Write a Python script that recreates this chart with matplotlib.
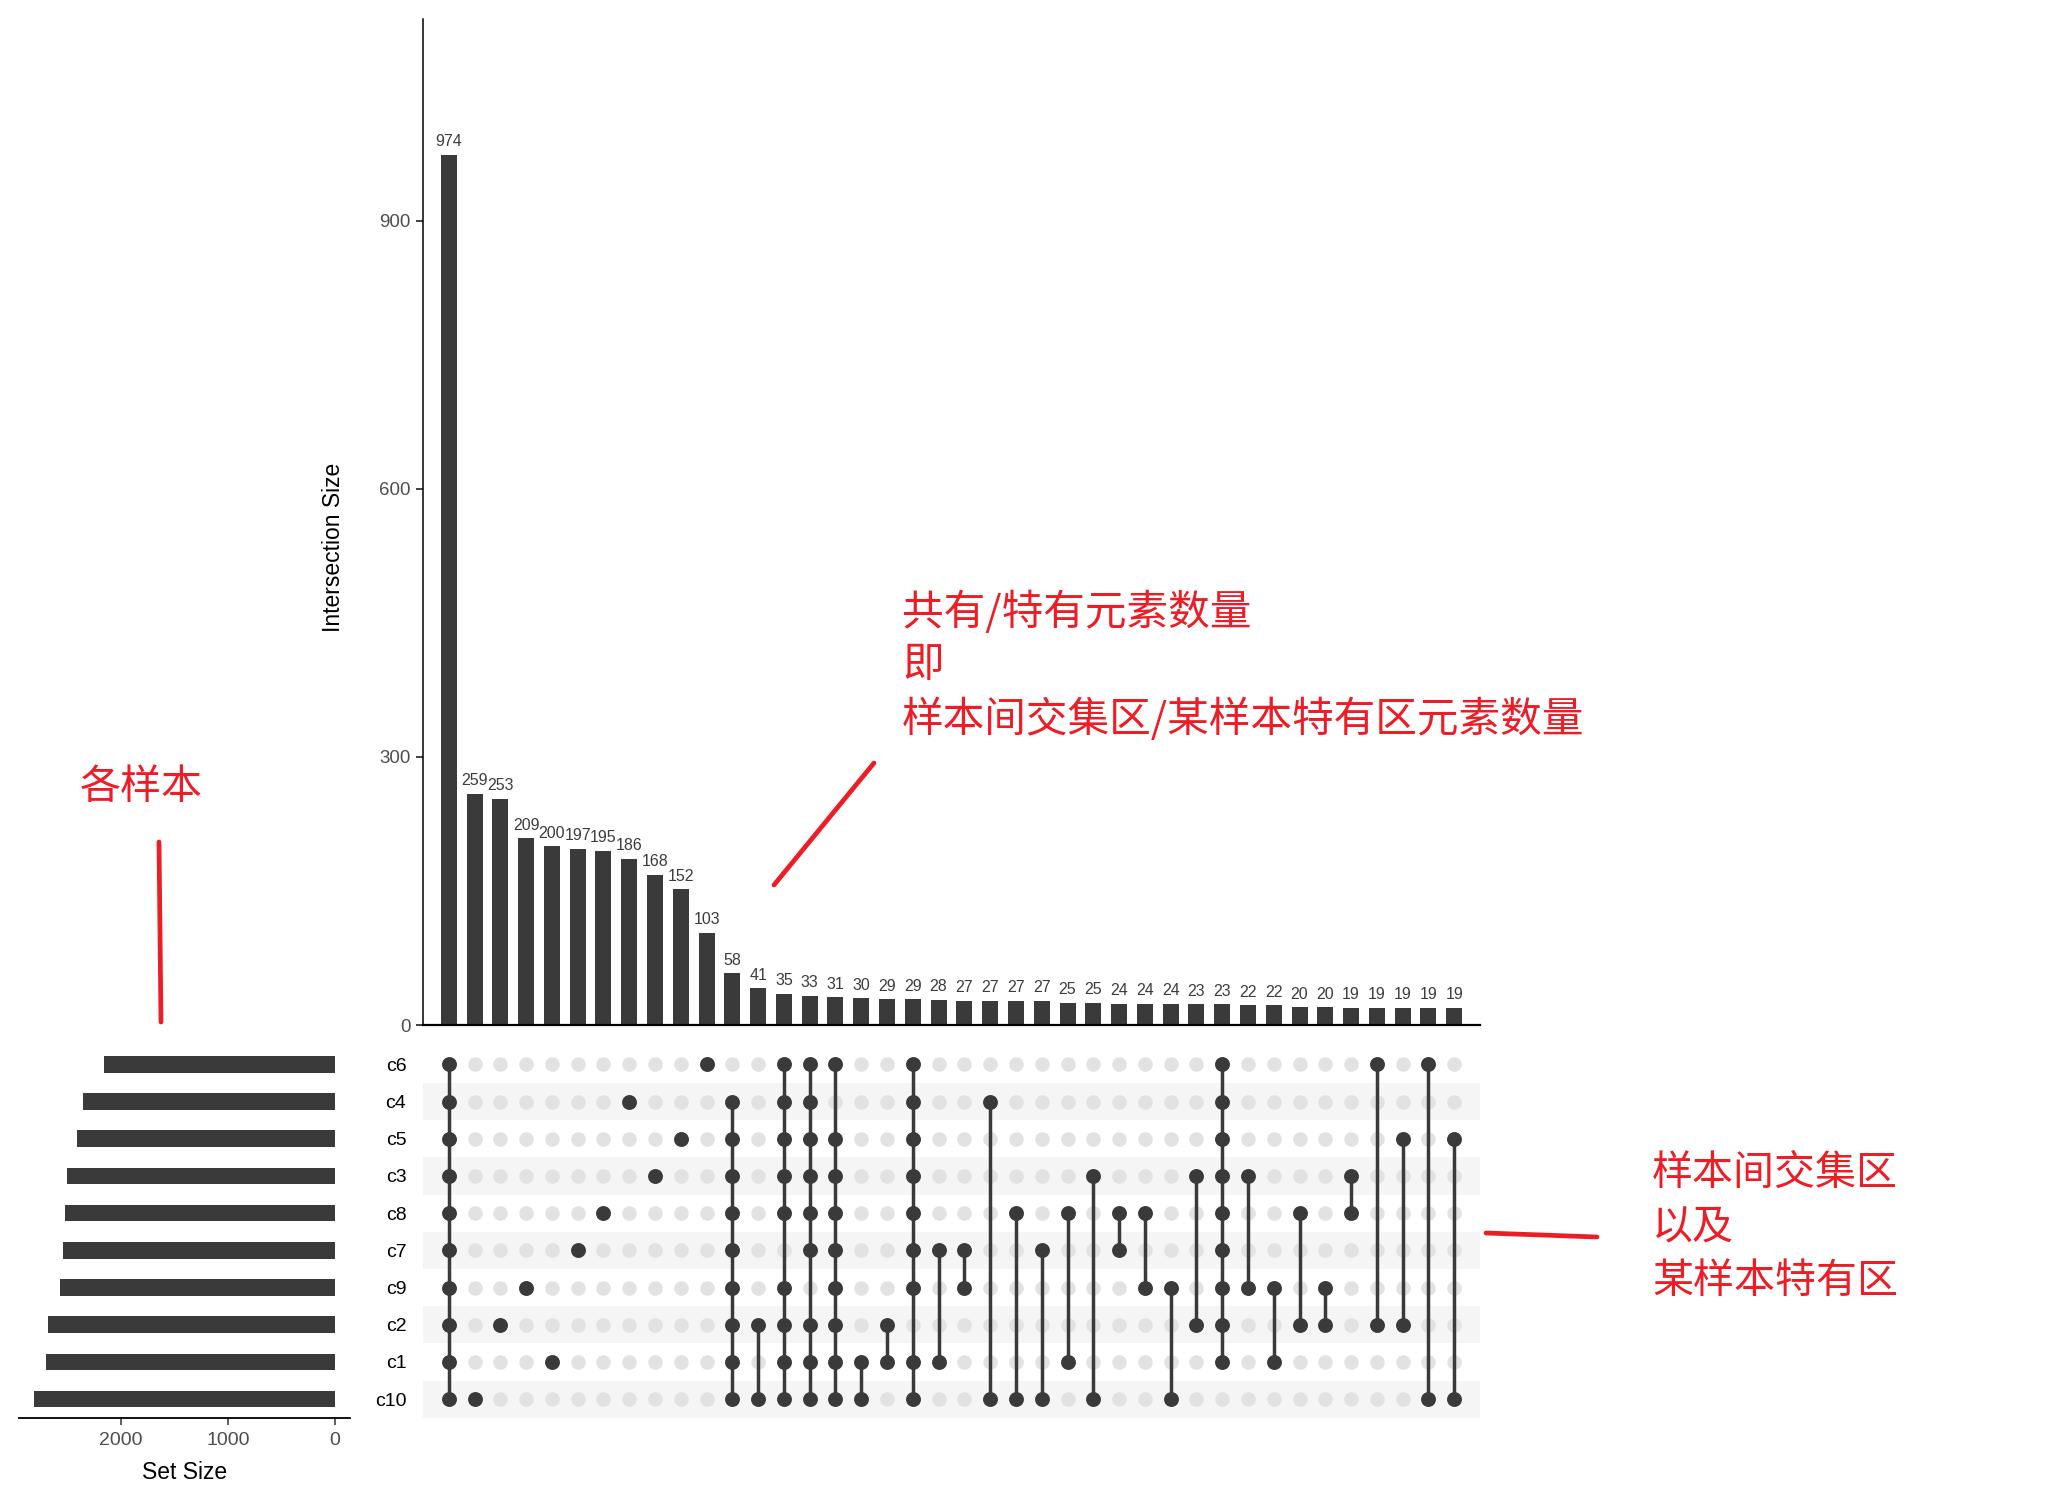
import matplotlib
matplotlib.use("Agg")
import matplotlib.pyplot as plt
from matplotlib.lines import Line2D

plt.rcParams['font.family'] = ['Liberation Sans', 'Noto Sans CJK SC', 'DejaVu Sans']

# sets, top to bottom as in the matrix
sets = ["c6", "c4", "c5", "c3", "c8", "c7", "c9", "c2", "c1", "c10"]
set_sizes = [2158, 2354, 2410, 2503, 2522, 2540, 2568, 2680, 2699, 2811]

# intersections, left to right
inter_sizes = [974, 259, 253, 209, 200, 197, 195, 186, 168, 152, 103, 58, 41, 35, 33,
               31, 30, 29, 29, 28, 27, 27, 27, 27, 25, 25, 24, 24, 24, 23, 23, 22, 22,
               20, 20, 19, 19, 19, 19, 19]
ALL = sets
inter_members = [
    ALL, ["c10"], ["c2"], ["c9"], ["c1"], ["c7"], ["c8"], ["c4"], ["c3"], ["c5"], ["c6"],
    [s for s in ALL if s != "c6"],
    ["c2", "c10"],
    [s for s in ALL if s != "c7"],
    [s for s in ALL if s != "c9"],
    [s for s in ALL if s != "c4"],
    ["c1", "c10"], ["c2", "c1"],
    [s for s in ALL if s != "c2"],
    ["c7", "c1"], ["c7", "c9"], ["c4", "c10"], ["c8", "c10"], ["c7", "c10"],
    ["c8", "c1"], ["c3", "c10"], ["c8", "c7"], ["c8", "c9"], ["c9", "c10"],
    ["c3", "c2"],
    [s for s in ALL if s != "c10"],
    ["c3", "c9"], ["c9", "c1"], ["c8", "c2"], ["c9", "c2"], ["c3", "c8"],
    ["c6", "c2"], ["c5", "c2"], ["c6", "c10"], ["c5", "c10"],
]

DARK = "#3a3a3a"
GREY_DOT = "#e2e2e2"
STRIPE = "#f5f5f5"
RED = "#ee1c25"

W, H = 2048, 1500
fig = plt.figure(figsize=(W / 100, H / 100), dpi=100)


def box(x0, y0, x1, y1):
    # pixel box (top-left origin) -> figure fraction rect
    return [x0 / W, 1 - y1 / H, (x1 - x0) / W, (y1 - y0) / H]


n_int = len(inter_sizes)
n_set = len(sets)
xs = list(range(1, n_int + 1))
row_y = {s: n_set - 1 - i for i, s in enumerate(sets)}

# intersection size bars
ax_bar = fig.add_axes(box(423, 19, 1480, 1025))
ax_bar.bar(xs, inter_sizes, width=0.62, color=DARK)
for x, v in zip(xs, inter_sizes):
    ax_bar.annotate(str(v), (x, v), xytext=(0, 4), textcoords="offset points",
                    ha="center", va="bottom", fontsize=11.5, color="#3c3c3c")
ax_bar.set_xlim(0, n_int + 1)
ax_bar.set_ylim(0, 1126)
ax_bar.set_yticks([0, 300, 600, 900])
ax_bar.set_xticks([])
ax_bar.spines["top"].set_visible(False)
ax_bar.spines["right"].set_visible(False)
ax_bar.spines["left"].set_linewidth(1.1)
ax_bar.spines["bottom"].set_linewidth(1.6)
ax_bar.tick_params(axis="y", labelsize=13.5, labelcolor="#4d4d4d", color="#333333",
                   length=5, width=1.3, pad=4)
ax_bar.set_ylabel("Intersection Size", fontsize=16.5, color="black")
ax_bar.yaxis.set_label_coords(-0.074, 0.475)

# matrix
ax_m = fig.add_axes(box(423, 1045.7, 1480, 1417.7))
for s in sets:
    if sets.index(s) % 2 == 1:
        ax_m.axhspan(row_y[s] - 0.5, row_y[s] + 0.5, color=STRIPE, zorder=0, lw=0)
for x, members in zip(xs, inter_members):
    ax_m.scatter([x] * n_set, [row_y[s] for s in sets], s=110, color=GREY_DOT, zorder=1, lw=0)
    ys = [row_y[s] for s in members]
    if len(ys) > 1:
        ax_m.plot([x, x], [min(ys), max(ys)], color=DARK, lw=2.5, zorder=2,
                  solid_capstyle="butt")
    ax_m.scatter([x] * len(ys), ys, s=115, color=DARK, zorder=3, lw=0)
ax_m.set_xlim(0, n_int + 1)
ax_m.set_ylim(-0.5, n_set - 0.5)
ax_m.set_yticks([row_y[s] for s in sets])
ax_m.set_yticklabels(sets)
ax_m.set_xticks([])
ax_m.tick_params(axis="y", length=0, labelsize=14, labelcolor="black", pad=12)
for sp in ax_m.spines.values():
    sp.set_visible(False)

# set size bars
ax_s = fig.add_axes(box(19.3, 1045.7, 350, 1417.7))
ax_s.barh([row_y[s] for s in sets], set_sizes, height=0.45, color=DARK)
ax_s.set_xlim(2951, -140)
ax_s.set_ylim(-0.5, n_set - 0.5)
ax_s.set_yticks([])
ax_s.set_xticks([0, 1000, 2000])
ax_s.tick_params(axis="x", labelsize=14, labelcolor="#4d4d4d", color="#333333",
                 length=5, width=1.1, pad=5)
for side in ["top", "right", "left"]:
    ax_s.spines[side].set_visible(False)
ax_s.spines["bottom"].set_linewidth(1.3)
ax_s.set_xlabel("Set Size", fontsize=16.5, color="black", labelpad=9)

# red hand-drawn annotations
cjk = ["Noto Sans CJK SC", "DejaVu Sans"]


def ftext(x, y, s, size=30):
    fig.text(x / W, 1 - y / H, s, color=RED, fontsize=size, family=cjk,
             ha="left", va="center")


def fline(x0, y0, x1, y1):
    fig.add_artist(Line2D([x0 / W, x1 / W], [1 - y0 / H, 1 - y1 / H],
                          color=RED, lw=3.4, solid_capstyle="round"))


ftext(902, 612, "共有/特有元素数量")
ftext(902, 665, "即")
ftext(902, 719, "样本间交集区/某样本特有区元素数量")
ftext(80, 788, "各样本", 29.5)
ftext(1652, 1173, "样本间交集区", 29.5)
ftext(1652, 1228, "以及", 29.5)
ftext(1652, 1281, "某样本特有区", 29.5)

fline(874, 763, 774, 885)
fline(159, 842, 161, 1022)
fline(1486, 1233, 1597, 1237)

fig.savefig("out.png", dpi=100)
